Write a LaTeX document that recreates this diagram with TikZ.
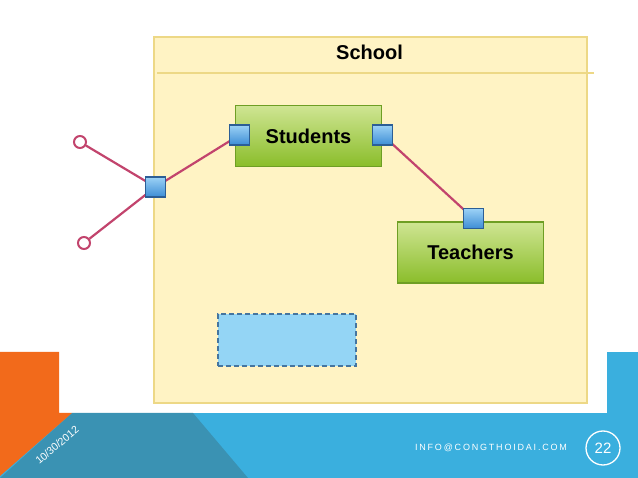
\documentclass[tikz,border=0pt]{standalone}
\usepackage{fontspec}
\setmainfont{Liberation Sans}
\newfontfamily\spacedfont[LetterSpace=20]{Liberation Sans}
\definecolor{orangec}{HTML}{F26A1B}
\definecolor{tealc}{HTML}{3A92B3}
\definecolor{lightblue}{HTML}{3AAFDE}
\definecolor{schoolfill}{HTML}{FFF3C4}
\definecolor{schoolborder}{HTML}{EDD886}
\definecolor{greentop}{HTML}{CFE593}
\definecolor{greenbot}{HTML}{8ABD2A}
\definecolor{greenborder}{HTML}{6E9E24}
\definecolor{porttop}{HTML}{9CD2F6}
\definecolor{portbot}{HTML}{3D8DD5}
\definecolor{portborder}{HTML}{2C5E96}
\definecolor{wirecol}{HTML}{C2446D}
\definecolor{slotfill}{HTML}{94D5F5}
\definecolor{slotborder}{HTML}{45759F}
\pgfdeclarelayer{bg}
\pgfdeclarelayer{wires}
\pgfsetlayers{bg,wires,main}
\begin{document}
\begin{tikzpicture}[x=1pt,y=-1pt,
  wire/.style={draw=wirecol,line width=2.2pt},
  port/.style={draw=portborder,line width=1.1pt,top color=porttop,bottom color=portbot,minimum size=20pt,inner sep=0pt},
  classbox/.style={draw=greenborder,line width=1.3pt,top color=greentop,bottom color=greenbot,minimum width=146pt,minimum height=61pt,inner sep=0pt,font=\fontsize{20}{24}\selectfont\bfseries},
  endpt/.style={circle,draw=wirecol,fill=white,line width=2pt,minimum size=12pt,inner sep=0pt},
  foot/.style={text=white,inner sep=0pt}]
\useasboundingbox (0,0) rectangle (638,478);
\begin{pgfonlayer}{bg}
  % footer shapes
  \fill[lightblue] (0,413) rectangle (638,478);
  \fill[lightblue] (607,352) rectangle (638,413);
  \fill[tealc] (0,478) -- (72,413) -- (193,413) -- (248,478) -- cycle;
  \fill[orangec] (0,352) -- (59,352) -- (59,413) -- (72,413) -- (0,476) -- cycle;
  % school container
  \node[draw=schoolborder,fill=schoolfill,line width=1.6pt,minimum width=433pt,minimum height=366pt,anchor=north west,inner sep=0pt] (school) at (153,36) {};
  \draw[schoolborder,line width=1.6pt] (157,73) -- (594,73);
  \node[font=\fontsize{20}{24}\selectfont\bfseries,inner sep=0pt] (title) at (369.5,52) {School};
  \node[draw=slotborder,fill=slotfill,line width=1.7pt,dash pattern=on 5pt off 3pt,minimum width=138pt,minimum height=52pt,anchor=north west,inner sep=0pt] (slot) at (217,313) {};
\end{pgfonlayer}
% classes
\node[classbox] (students) at (308.5,136) {Students};
\node[classbox] (teachers) at (470.5,252.5) {Teachers};
% ports
\node[port] (sl) at (239.5,135) {};
\node[port] (sr) at (382.5,135) {};
\node[port] (tp) at (473.5,218.5) {};
\node[port] (schp) at (155.5,187) {};
% end points
\node[endpt] (e1) at (80,142) {};
\node[endpt] (e2) at (84,243) {};
\begin{pgfonlayer}{wires}
  \draw[wire] (e1) -- (schp.center);
  \draw[wire] (e2) -- (schp.center);
  \draw[wire] (schp.center) -- (sl.center);
  \draw[wire] (sr.center) -- (tp.center);
\end{pgfonlayer}
% footer texts
\node[foot,rotate=40,font=\fontsize{10.5}{12}\selectfont] (date) at (57,445) {10/30/2012};
\node[foot,font=\spacedfont\fontsize{9}{11}\selectfont] (mail) at (491,448) {INFO@CONGTHOIDAI.COM};
\node[circle,draw=white,line width=1.3pt,minimum size=34pt,inner sep=0pt,text=white,font=\fontsize{15}{18}\selectfont] (page) at (603,448) {22};
\end{tikzpicture}
\end{document}
